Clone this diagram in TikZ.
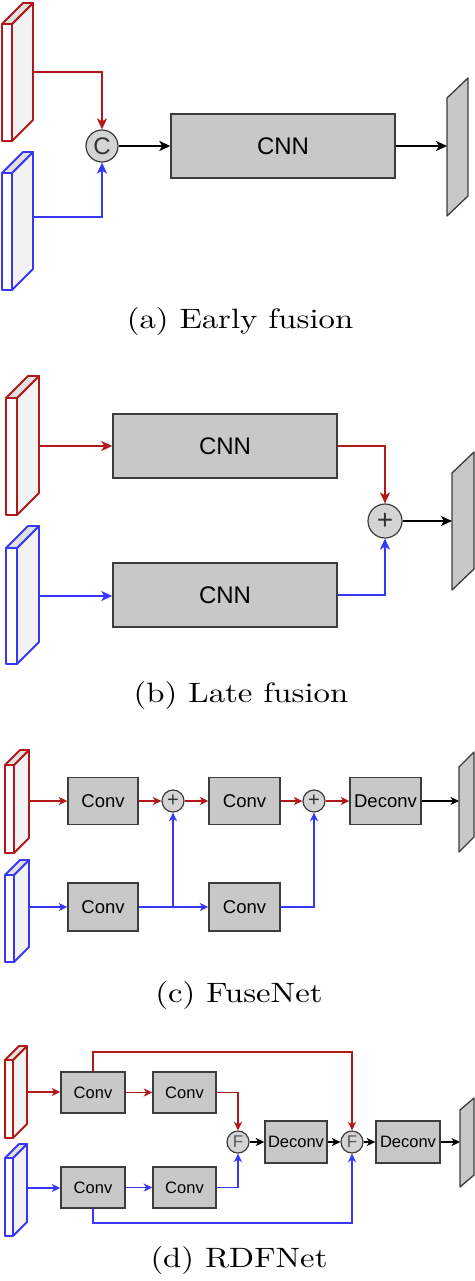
\documentclass[tikz,border=0pt]{standalone}
\usepackage{fontspec}
\newfontfamily\sansf{Liberation Sans}
\newfontfamily\capf{lmroman10-regular}[Extension=.otf]
\usetikzlibrary{arrows.meta}
\definecolor{rgbred}{RGB}{178,24,24}
\definecolor{rgbblue}{RGB}{55,55,250}
\definecolor{boxfill}{RGB}{200,200,200}
\definecolor{boxdraw}{RGB}{60,60,60}
\definecolor{circfill}{RGB}{212,212,212}
\definecolor{sidefill}{RGB}{242,242,242}
\definecolor{topfill}{RGB}{225,225,225}
\newcommand{\inslab}[6]{%
  \filldraw[draw=#1, fill=white, line width=1.8pt, line join=round] (#2,#4) rectangle (#3,#5);
  \filldraw[draw=#1, fill=sidefill, line width=1.8pt, line join=round] (#3,#4) -- ++(#6,-#6) -- (#3+#6,#5-#6) -- (#3,#5) -- cycle;
  \filldraw[draw=#1, fill=topfill, line width=1.8pt, line join=round] (#2,#4) -- ++(#6,-#6) -- (#3+#6,#4-#6) -- (#3,#4) -- cycle;}
\begin{document}
\begin{tikzpicture}[x=1pt,y=-1pt,
  blk/.style={draw=boxdraw, fill=boxfill, line width=1.4pt, inner sep=0pt},
  bigf/.style={font=\sansf\fontsize{24}{24}\selectfont},
  midf/.style={font=\sansf\fontsize{18.5}{18.5}\selectfont},
  smlf/.style={font=\sansf\fontsize{16.5}{16.5}\selectfont},
  opc/.style={circle, draw=boxdraw, fill=circfill, line width=1.2pt, inner sep=0pt, text=black!80},
  outs/.style={draw=boxdraw, fill=boxfill, line width=1.3pt, line join=round},
  rl/.style={draw=rgbred, line width=2pt},
  bl/.style={draw=rgbblue, line width=2pt},
  kl/.style={draw=black, line width=2pt},
  bigarr/.style={-{Stealth[length=11pt,width=10pt,inset=3pt]}},
  smlarr/.style={-{Stealth[length=8.5pt,width=8pt,inset=2.4pt]}},
  captxt/.style={anchor=base, inner sep=0pt, font=\capf\fontsize{28}{30}\selectfont}
]
\useasboundingbox (0,0) rectangle (474,1281);
\fill[white] (0,0) rectangle (474,1281);

% ---------------- (a) Early fusion ----------------
\inslab{rgbred}{2}{12}{24}{141}{21}
\inslab{rgbblue}{2}{12}{173}{290}{21}
\coordinate (ar) at (33,72);
\coordinate (ab) at (33,217);
\node[opc, minimum size=32pt, font=\sansf\fontsize{24}{24}\selectfont] (ca) at (102,146) {C};
\node[blk, bigf, minimum width=224pt, minimum height=64pt] (cnna) at (283,146) {CNN};
\filldraw[outs] (447,98) -- (468,78) -- (468,196) -- (447,216) -- cycle;
\coordinate (oa) at (447,146);
\draw[rl, bigarr] (ar) -| (ca.north);
\draw[bl, bigarr] (ab) -| (ca.south);
\draw[kl, bigarr] (ca) -- (cnna);
\draw[kl, bigarr] (cnna) -- (oa);
\node[captxt] (capa) at (240,328) {\scalebox{1.17}[1]{(a) Early fusion}};

% ---------------- (b) Late fusion ----------------
\inslab{rgbred}{6}{17}{398}{515}{22}
\inslab{rgbblue}{6}{17}{548}{664}{22}
\coordinate (br) at (39,446);
\coordinate (bb) at (39,596);
\node[blk, bigf, minimum width=224pt, minimum height=64pt] (cnnb1) at (225,446) {CNN};
\node[blk, bigf, minimum width=224pt, minimum height=64pt] (cnnb2) at (225,595) {CNN};
\node[opc, minimum size=34pt, font=\sansf\fontsize{28}{28}\selectfont] (pb) at (385,521) {+};
\filldraw[outs] (452,473) -- (474,452) -- (474,569) -- (452,590) -- cycle;
\coordinate (ob) at (452,521);
\draw[rl, bigarr] (br) -- (cnnb1);
\draw[rl, bigarr] (cnnb1.east) -| (pb.north);
\draw[bl, bigarr] (bb) -- (cnnb2.west |- bb);
\draw[bl, bigarr] (cnnb2.east) -| (pb.south);
\draw[kl, bigarr] (pb) -- (ob);
\node[captxt] (capb) at (241,702) {\scalebox{1.17}[1]{(b) Late fusion}};

% ---------------- (c) FuseNet ----------------
\inslab{rgbred}{5}{14}{765}{853}{15}
\inslab{rgbblue}{5}{14}{875}{962}{15}
\coordinate (cr) at (29,801);
\coordinate (cb) at (29,907);
\node[blk, midf, minimum width=70pt, minimum height=47pt] (cv1) at (103,801) {Conv};
\node[opc, minimum size=22pt, font=\sansf\fontsize{20}{20}\selectfont] (p1) at (173,801) {+};
\node[blk, midf, minimum width=71pt, minimum height=47pt] (cv2) at (244.5,801) {Conv};
\node[opc, minimum size=22pt, font=\sansf\fontsize{20}{20}\selectfont] (p2) at (314,801) {+};
\node[blk, midf, minimum width=71pt, minimum height=47pt] (dc) at (385.5,801) {Deconv};
\node[blk, midf, minimum width=70pt, minimum height=48pt] (cv3) at (103,907) {Conv};
\node[blk, midf, minimum width=71pt, minimum height=48pt] (cv4) at (244.5,907) {Conv};
\filldraw[outs] (459,767) -- (474,752) -- (474,837) -- (459,852) -- cycle;
\coordinate (oc) at (459,801);
\coordinate (jc) at (173,907);
\draw[rl, smlarr] (cr) -- (cv1);
\draw[rl, smlarr] (cv1) -- (p1);
\draw[rl, smlarr] (p1) -- (cv2);
\draw[rl, smlarr] (cv2) -- (p2);
\draw[rl, smlarr] (p2) -- (dc);
\draw[kl, line width=1.6pt, smlarr] (dc) -- (oc);
\draw[bl, smlarr] (cb) -- (cv3);
\draw[bl, smlarr] (cv3) -- (cv4);
\draw[bl, smlarr] (jc) -- (p1.south);
\draw[bl, smlarr] (cv4.east) -| (p2.south);
\node[captxt] (capc) at (239,1002) {\scalebox{1.17}[1]{(c) FuseNet}};

% ---------------- (d) RDFNet ----------------
\inslab{rgbred}{5}{13}{1060}{1138}{14}
\inslab{rgbblue}{5}{13}{1158}{1236}{14}
\coordinate (dr) at (27,1092);
\coordinate (db) at (27,1188);
\node[blk, smlf, minimum width=64pt, minimum height=41pt] (d1) at (93,1092.5) {Conv};
\node[blk, smlf, minimum width=63pt, minimum height=41pt] (d2) at (184.5,1092.5) {Conv};
\node[blk, smlf, minimum width=64pt, minimum height=41pt] (d3) at (93,1187.5) {Conv};
\node[blk, smlf, minimum width=63pt, minimum height=41pt] (d4) at (184.5,1187.5) {Conv};
\node[opc, minimum size=22pt, font=\sansf\fontsize{17}{17}\selectfont, text=black!65] (f1) at (238,1142) {F};
\node[blk, smlf, minimum width=62pt, minimum height=42pt] (dd1) at (296,1142) {Deconv};
\node[opc, minimum size=22pt, font=\sansf\fontsize{17}{17}\selectfont, text=black!65] (f2) at (352,1142) {F};
\node[blk, smlf, minimum width=64pt, minimum height=42pt] (dd2) at (408,1142) {Deconv};
\filldraw[outs] (460,1110) -- (474,1098) -- (474,1175) -- (460,1187) -- cycle;
\coordinate (od) at (460,1142);
\draw[rl, line width=1.8pt, smlarr] (dr) -- (d1.west |- dr);
\draw[rl, line width=1.8pt, smlarr] (d1) -- (d2);
\draw[rl, line width=1.8pt, smlarr] (d2.east) -| (f1.north);
\draw[rl, line width=1.8pt, smlarr] (d1.north) -- ++(0,-19) -| (f2.north);
\draw[bl, line width=1.8pt, smlarr] (db) -- (d3.west |- db);
\draw[bl, line width=1.8pt, smlarr] (d3) -- (d4);
\draw[bl, line width=1.8pt, smlarr] (d4.east) -| (f1.south);
\draw[bl, line width=1.8pt, smlarr] (d3.south) -- ++(0,14) -| (f2.south);
\draw[kl, line width=1.7pt, smlarr] (f1) -- (dd1);
\draw[kl, line width=1.7pt, smlarr] (dd1) -- (f2);
\draw[kl, line width=1.7pt, smlarr] (f2) -- (dd2);
\draw[kl, line width=1.7pt, smlarr] (dd2) -- (od);
\node[captxt] (capd) at (239,1267) {\scalebox{1.17}[1]{(d) RDFNet}};
\end{tikzpicture}
\end{document}
